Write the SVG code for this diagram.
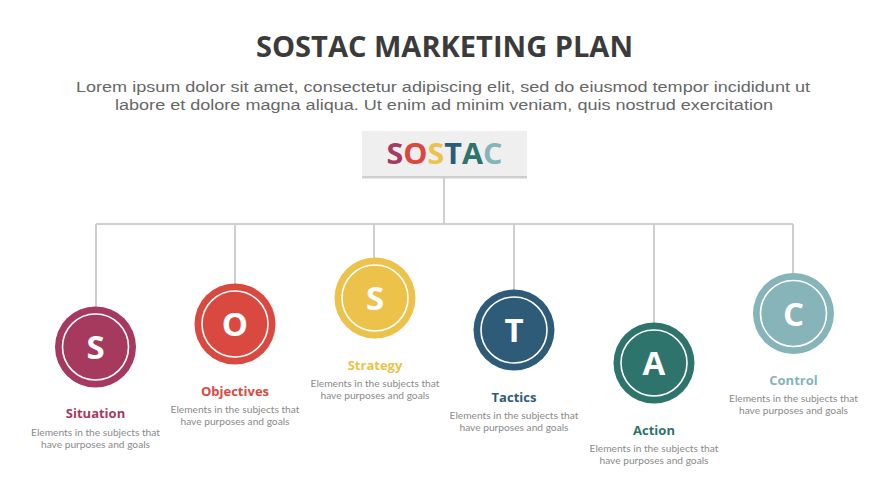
<svg xmlns="http://www.w3.org/2000/svg" width="889" height="500" viewBox="0 0 889 500">
<style>
.title{font-family:"Open Sans","Liberation Sans",sans-serif;font-weight:700;font-size:28px;fill:#3b3b3b;text-anchor:middle}
.sub{font-family:"Liberation Sans",sans-serif;font-weight:400;font-size:15.5px;fill:#666;text-anchor:middle}
.ltr{font-family:"Open Sans","Liberation Sans",sans-serif;font-weight:700;font-size:33px;fill:#fff;text-anchor:middle}
.lbl{font-family:"Open Sans","Liberation Sans",sans-serif;font-weight:700;font-size:13px;text-anchor:middle}
.desc{font-family:Lato,"Liberation Sans",sans-serif;font-weight:400;font-size:10.2px;fill:#8a8a8a;text-anchor:middle}
.ring{fill:none;stroke:#fff;stroke-width:1.6}
.con{stroke:#cfcfcf;stroke-width:2;fill:none}
</style>
<rect width="889" height="500" fill="#fff"/>
<text class="title" x="444.5" y="57" textLength="377" lengthAdjust="spacingAndGlyphs">SOSTAC MARKETING PLAN</text>
<text class="sub" x="443" y="92" textLength="734" lengthAdjust="spacingAndGlyphs">Lorem ipsum dolor sit amet, consectetur adipiscing elit, sed do eiusmod tempor incididunt ut</text>
<text class="sub" x="444" y="110" textLength="658" lengthAdjust="spacingAndGlyphs">labore et dolore magna aliqua. Ut enim ad minim veniam, quis nostrud exercitation</text>
<g id="connectors">
<path class="con" d="M444 178V224M96 224H793M96 224V307M235 224V284M374 224V258M514 224V290M654 224V323M793 224V273"/>
</g>
<g id="header">
<rect x="362" y="131" width="165" height="46" fill="#efefef"/>
<rect x="362" y="176" width="165" height="2.5" fill="#cfcfcf"/>
<text x="444.5" y="163.5" font-family="'Open Sans','Liberation Sans',sans-serif" font-weight="700" font-size="28" text-anchor="middle" textLength="116" lengthAdjust="spacingAndGlyphs"><tspan fill="#a53a5e">S</tspan><tspan fill="#d9493f">O</tspan><tspan fill="#ecc24a">S</tspan><tspan fill="#2e5b78">T</tspan><tspan fill="#2e736c">A</tspan><tspan fill="#86b4b9">C</tspan></text>
</g>
<g id="situation">
<circle cx="95.5" cy="347" r="40.5" fill="#a53a5e"/><circle class="ring" cx="95.5" cy="347" r="33"/>
<text class="ltr" x="95.5" y="359">S</text>
<text class="lbl" x="95.5" y="418" fill="#a53a5e">Situation</text>
<text class="desc" x="95.5" y="436">Elements in the subjects that</text>
<text class="desc" x="95.5" y="448">have purposes and goals</text>
</g>
<g id="objectives">
<circle cx="235" cy="324" r="40.5" fill="#d9493f"/><circle class="ring" cx="235" cy="324" r="33"/>
<text class="ltr" x="235" y="336">O</text>
<text class="lbl" x="235" y="396" fill="#d9493f">Objectives</text>
<text class="desc" x="235" y="413">Elements in the subjects that</text>
<text class="desc" x="235" y="425">have purposes and goals</text>
</g>
<g id="strategy">
<circle cx="375" cy="298" r="40.5" fill="#ecc24a"/><circle class="ring" cx="375" cy="298" r="33"/>
<text class="ltr" x="375" y="310">S</text>
<text class="lbl" x="375" y="370" fill="#ecc24a">Strategy</text>
<text class="desc" x="375" y="387">Elements in the subjects that</text>
<text class="desc" x="375" y="399">have purposes and goals</text>
</g>
<g id="tactics">
<circle cx="514" cy="330" r="40.5" fill="#2e5b78"/><circle class="ring" cx="514" cy="330" r="33"/>
<text class="ltr" x="514" y="342">T</text>
<text class="lbl" x="514" y="402" fill="#2e5b78">Tactics</text>
<text class="desc" x="514" y="419">Elements in the subjects that</text>
<text class="desc" x="514" y="431">have purposes and goals</text>
</g>
<g id="action">
<circle cx="654" cy="363" r="40.5" fill="#2e736c"/><circle class="ring" cx="654" cy="363" r="33"/>
<text class="ltr" x="654" y="375">A</text>
<text class="lbl" x="654" y="435" fill="#2e736c">Action</text>
<text class="desc" x="654" y="452">Elements in the subjects that</text>
<text class="desc" x="654" y="464">have purposes and goals</text>
</g>
<g id="control">
<circle cx="793.5" cy="313.5" r="40.5" fill="#86b4b9"/><circle class="ring" cx="793.5" cy="313.5" r="33"/>
<text class="ltr" x="793.5" y="325.5">C</text>
<text class="lbl" x="793.5" y="385" fill="#86b4b9">Control</text>
<text class="desc" x="793.5" y="402">Elements in the subjects that</text>
<text class="desc" x="793.5" y="414">have purposes and goals</text>
</g>
</svg>
